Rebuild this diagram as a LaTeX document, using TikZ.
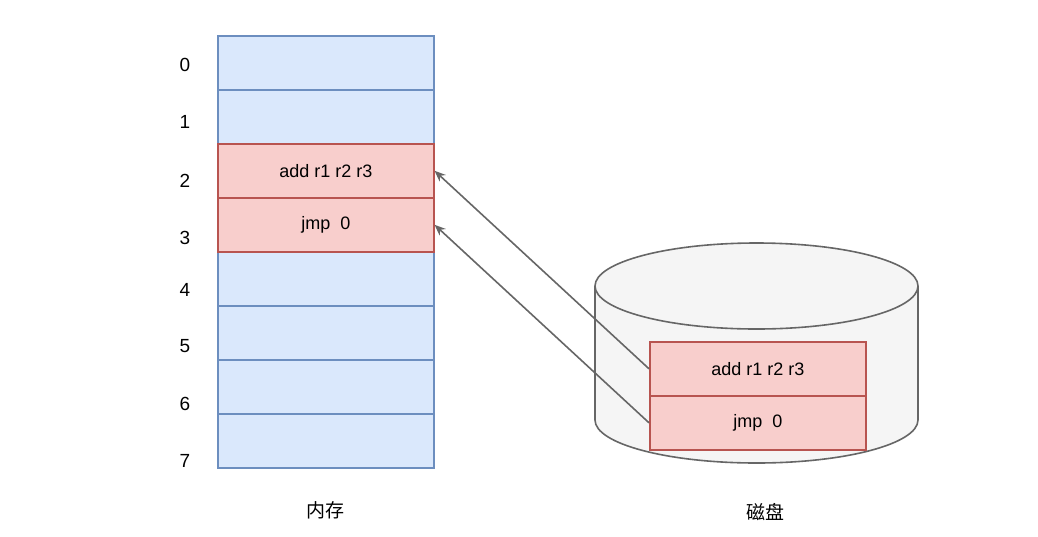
\documentclass[tikz,border=0pt]{standalone}
\usepackage{fontspec}
\usetikzlibrary{arrows.meta}
\setmainfont{Liberation Sans}
\newfontfamily\cjk{Noto Sans CJK SC}
\definecolor{membl}{HTML}{DAE8FC}
\definecolor{membd}{HTML}{6C8EBF}
\definecolor{redf}{HTML}{F8CECC}
\definecolor{redd}{HTML}{B85450}
\definecolor{cylf}{HTML}{F5F5F5}
\definecolor{gr}{HTML}{666666}
\begin{document}
\begin{tikzpicture}[x=1pt,y=-1pt,
  cell/.style={draw=membd,fill=membl,minimum width=216pt,minimum height=54pt,inner sep=0,anchor=north west,line width=1.6pt},
  ins/.style={draw=redd,fill=redf,minimum width=216pt,minimum height=54pt,inner sep=0,anchor=north west,line width=1.6pt,font=\fontsize{18}{20}\selectfont},
  idx/.style={font=\fontsize{19}{21}\selectfont},
  arr/.style={draw=gr,line width=1.6pt,-{Stealth[length=11pt,width=9pt]}}]
\useasboundingbox (0,0) rectangle (1038,536);
\fill[white] (0,0) rectangle (1038,536);
\foreach \i in {0,1,4,5,6,7}{
  \node[cell] (m\i) at (217,35+54*\i) {};
}
\node[ins] (m2) at (217,143) {add r1 r2 r3};
\node[ins] (m3) at (217,197) {jmp\ \ 0};
\foreach \i/\y in {0/65,1/122,2/181,3/238,4/290,5/346,6/404,7/461}{
  \node[idx] (l\i) at (185,\y) {\i};
}
\node[font=\cjk\fontsize{19}{21}\selectfont] (memlbl) at (325,510) {内存};
\draw[draw=gr,fill=cylf,line width=1.6pt] (595,286) -- (595,420) arc[start angle=180,end angle=360,x radius=161.5pt,y radius=43pt] -- (918,286) arc[start angle=0,end angle=180,x radius=161.5pt,y radius=43pt] -- cycle;
\draw[draw=gr,line width=1.6pt] (595,286) arc[start angle=180,end angle=360,x radius=161.5pt,y radius=43pt];
\node[ins] (d1) at (649,341) {add r1 r2 r3};
\node[ins] (d2) at (649,395) {jmp\ \ 0};
\node[font=\cjk\fontsize{19}{21}\selectfont] (disklbl) at (765,512) {磁盘};
\draw[arr] (d1.west) -- (m2.east);
\draw[arr] (d2.west) -- (m3.east);
\end{tikzpicture}
\end{document}
